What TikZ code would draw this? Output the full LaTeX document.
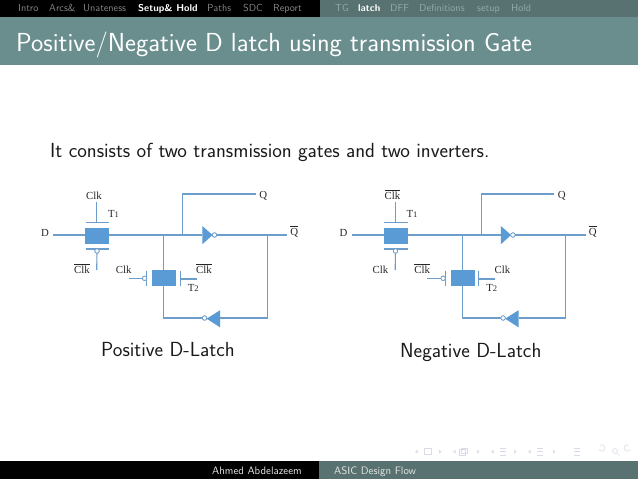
\documentclass[tikz,border=0pt]{standalone}
\usepackage{fontspec}
\setsansfont{Latin Modern Sans}
\newfontfamily\cirfont{Liberation Serif}
\definecolor{barteal}{HTML}{6A8D8D}
\definecolor{darkteal}{HTML}{577270}
\definecolor{navleft}{HTML}{858585}
\definecolor{navright}{HTML}{93ABA9}
\definecolor{wire}{HTML}{6C9DCB}
\definecolor{tgfill}{HTML}{5B9BD5}
\definecolor{navsym}{HTML}{D9DCE6}
\definecolor{bodytext}{HTML}{1A1A1A}
\tikzset{
  wireline/.style={draw=wire,line width=1.1pt},
  tgbox/.style={draw=none,fill=tgfill,minimum width=24pt,minimum height=15.5pt,inner sep=0pt,outer sep=0pt},
  bubble/.style={circle,draw=wire,fill=white,line width=0.7pt,minimum size=4.4pt,inner sep=0pt,outer sep=0pt},
  cirlabel/.style={font=\cirfont\fontsize{10.8}{12}\selectfont,text=black!85,inner sep=0pt},
  navtext/.style={font=\sffamily\fontsize{10.2}{11}\selectfont,anchor=base west,inner sep=0pt},
  navactive/.style={navtext,text=white,font=\sffamily\bfseries\fontsize{9.9}{11}\selectfont},
  bodylabel/.style={font=\sffamily\fontsize{20.4}{24}\selectfont,text=bodytext,inner sep=0pt},
  foottext/.style={font=\sffamily\fontsize{10.8}{12}\selectfont,text=white!90!black,inner sep=0pt},
  navsymb/.style={draw=navsym,line width=0.6pt},
}
\newcommand{\barlabel}[1]{$\overline{\mbox{#1}}$}
% #1 prefix, #2 x shift, #3 T1 top, #4 T1 bottom, #5 T2 left, #6 T2 right
\newcommand{\latchcircuit}[6]{%
\begin{scope}[shift={(#2,0)},name prefix=#1-]
  \node[tgbox] (tga) at (97.3,236) {};
  \node[tgbox] (tgb) at (164,278.2) {};
  \node[bubble] (bb1) at (97,251) {};
  \node[bubble] (bb2) at (144.6,278.3) {};
  \node[bubble] (inva) at (214.4,235) {};
  \node[bubble] (invb) at (204.6,318) {};
  \coordinate (dstart) at (53.3,235);
  \coordinate (junc) at (163.7,235);
  \coordinate (qj) at (182.7,235);
  \coordinate (qtop) at (182.7,194);
  \coordinate (qend) at (255.7,194);
  \coordinate (inaleft) at (202.3,235);
  \coordinate (qn) at (267.3,235);
  \coordinate (qbend) at (287,235);
  \coordinate (brr) at (267.3,318);
  \coordinate (bll) at (163.7,318);
  \coordinate (gatop) at (96.7,201.7);
  \coordinate (gatb) at (96.7,222.7);
  \coordinate (gabot) at (96.7,270);
  \coordinate (gbl) at (128.7,278.3);
  \coordinate (gbr) at (196.7,279);
  \coordinate (gbrb) at (180.3,279);
  \coordinate (inbr) at (220,318);
  % wires
  \draw[wireline] (dstart) -- (junc) -- (qj) -- (inaleft);
  \draw[wireline] (junc) -- (bll) -- (invb);
  \draw[wireline] (qj) -- (qtop) -- (qend);
  \draw[wireline] (inva) -- (qbend);
  \draw[wireline] (qn) -- (brr) -- (inbr);
  \draw[wireline] (gatop) -- (gatb);
  \draw[wireline] (85.5,222.7) -- (109,222.7);
  \draw[wireline] (85.5,249) -- (109,249);
  \draw[wireline] (bb1) -- (gabot);
  \draw[wireline] (146.8,270.5) -- (146.8,285.8);
  \draw[wireline] (gbl) -- (bb2);
  \draw[wireline] (180.3,270.5) -- (180.3,286);
  \draw[wireline] (gbrb) -- (gbr);
  \node[tgbox] at (97.3,236) {};
  \node[tgbox] at (164,278.2) {};
  % inverters
  \fill[tgfill] (202.3,226) -- (212.6,235) -- (202.3,244.3) -- cycle;
  \fill[tgfill] (220,310.3) -- (206.6,318.7) -- (220,327.3) -- cycle;
  \node[bubble] at (214.4,235) {};
  \node[bubble] at (204.6,318) {};
  \node[bubble] at (97,251) {};
  \node[bubble] at (144.6,278.3) {};
  % labels
  \node[cirlabel] (lbd) at (45,232.5) {D};
  \node[cirlabel] (lbq) at (263.3,195.5) {Q};
  \node[cirlabel] (lbqb) at (294.3,231.5) {\barlabel{Q}};
  \node[cirlabel] (lbta) at (113.5,214) {T{\fontsize{8.5}{9}\selectfont 1}};
  \node[cirlabel] (lbtb) at (193.3,287.7) {T{\fontsize{8.5}{9}\selectfont 2}};
  \node[cirlabel,anchor=base] (lbca) at (94,199) {#3};
  \node[cirlabel,anchor=base] (lbcb) at (82,273) {#4};
  \node[cirlabel,anchor=base] (lbcc) at (123.7,273) {#5};
  \node[cirlabel,anchor=base] (lbcd) at (204,273) {#6};
\end{scope}}
\begin{document}
\begin{tikzpicture}[x=1pt,y=-1pt]
\useasboundingbox (0,0) rectangle (638,479);
\fill[white] (0,0) rectangle (638,479);
% bars
\fill[black] (0,0) rectangle (320,17);
\fill[darkteal] (320,0) rectangle (638,17);
\fill[barteal] (0,17) rectangle (638,65);
\fill[black] (0,461) rectangle (319,479);
\fill[darkteal] (319,461) rectangle (638,479);
% navigation
\foreach \nm/\tx/\xx in {n1/Intro/18,n4/Paths/207,n5/SDC/243,n6/Report/273}
  \node[navtext,text=navleft] (\nm) at (\xx,12) {\tx};
\node[navtext,text=navleft] (n2) at (49,12) {Arcs\&\hspace{4pt} Unateness};
\node[navactive] (n3) at (138,12) {Setup\&\ Hold};
\node[navtext,text=navright] (m1) at (335,12) {TG};
\node[navactive] (m2) at (358,12) {latch};
\foreach \nm/\tx/\xx in {m3/DFF/390,m4/Definitions/419,m5/setup/477,m6/Hold/511}
  \node[navtext,text=navright] (\nm) at (\xx,12) {\tx};
% title
\node[anchor=base west,inner sep=0pt,text=white,font=\sffamily\fontsize{26.1}{30}\selectfont] (title) at (16,52) {Positive/Negative D latch using transmission Gate};
% body
\node[bodylabel,anchor=base west] (body) at (50,157) {It consists of two transmission gates and two inverters.};
% circuits
\latchcircuit{L}{0}{Clk}{\barlabel{Clk}}{Clk}{\barlabel{Clk}}
\latchcircuit{R}{298.5}{\barlabel{Clk}}{Clk}{\barlabel{Clk}}{Clk}
\node[bodylabel,anchor=base west] (capl) at (101,356) {Positive D-Latch};
\node[bodylabel,anchor=base west] (capr) at (400,357) {Negative D-Latch};
% footer
\node[foottext,anchor=base west] (fa) at (212,474) {Ahmed Abdelazeem};
\node[foottext,anchor=base west] (fb) at (334,474) {ASIC Design Flow};
% beamer navigation symbols
\foreach \xx in {415,453,491,528} \fill[navsym] (\xx,451.7) -- (\xx+2.6,449.8) -- (\xx+2.6,453.6) -- cycle;
\foreach \xx in {439,477,514,553} \fill[navsym] (\xx+2.6,451.7) -- (\xx,449.8) -- (\xx,453.6) -- cycle;
\draw[navsymb] (424.5,448.5) rectangle (431.5,454.5);
\draw[navsymb] (459,449.5) rectangle (465,455);
\draw[navsymb] (461,448) rectangle (467,453.5);
\foreach \xx in {503,540,577} {
  \draw[navsymb] (\xx-3,448.5) -- (\xx+3,448.5);
  \draw[navsymb] (\xx-3,451.7) -- (\xx+3,451.7);
  \draw[navsymb] (\xx-3,454.9) -- (\xx+3,454.9);
}
\draw[navsymb] (599,449.5) arc[start angle=150,end angle=-120,radius=3.2];
\draw[navsymb] (615,451) circle[radius=2.5];
\draw[navsymb] (617,453) -- (619.5,455.5);
\draw[navsymb] (630,449.5) arc[start angle=30,end angle=300,radius=3.2];
\end{tikzpicture}
\end{document}
